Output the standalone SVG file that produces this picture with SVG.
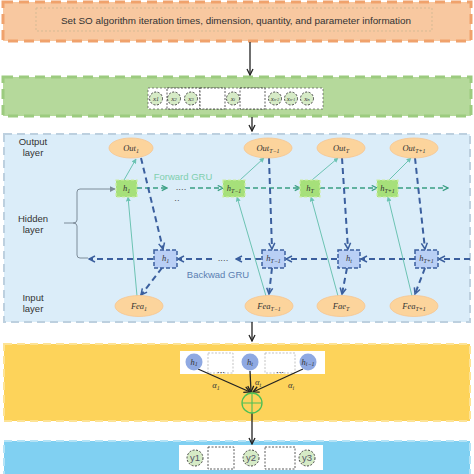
<svg xmlns="http://www.w3.org/2000/svg" width="474" height="474" viewBox="0 0 474 474">
<style>
.lbl{font-family:"Liberation Sans",Arial,sans-serif;font-size:9.5px;fill:#333;text-anchor:middle}
.m{font-family:"Liberation Serif","Times New Roman",serif;font-style:italic;font-size:8.5px;fill:#333;text-anchor:middle}
.s{font-size:6px}
.ell{fill:#fcd49c;stroke:#f6c590;stroke-width:0.8}
.fh{fill:#a6e07a;stroke:#cdeea5;stroke-width:1.2;stroke-dasharray:3 2}
.bh{fill:#b9cff5;stroke:#3b5f9e;stroke-width:1.5;stroke-dasharray:4 2}
.bd{fill:none;stroke:#3b5f9e;stroke-width:2;stroke-dasharray:6 4}
.fd{fill:none;stroke:#3a9f82;stroke-width:1.4;stroke-dasharray:5 3}
.tl{fill:none;stroke:#6cc3b3;stroke-width:1}
.blk{fill:none;stroke:#222;stroke-width:1.3}
.xc{fill:#d6ebc6;stroke:#333;stroke-width:0.9;stroke-dasharray:2 1.5}
.db{fill:#fff;stroke:#333;stroke-width:0.8;stroke-dasharray:2 1.5}
.gb{fill:#fff;stroke:#aaa;stroke-width:0.7;stroke-dasharray:2 1.5}
.hc{fill:#8fa9e2}
.sm{font-family:"Liberation Serif","Times New Roman",serif;font-style:italic;font-size:7px;fill:#333;text-anchor:middle}
</style>
<defs>
<marker id="mB" viewBox="0 0 8 8" refX="7" refY="4" markerWidth="8" markerHeight="8" markerUnits="userSpaceOnUse" orient="auto"><path d="M1,1 L7,4 L1,7" fill="none" stroke="#3b5f9e" stroke-width="1.5"/></marker>
<marker id="mT" viewBox="0 0 8 8" refX="7" refY="4" markerWidth="7" markerHeight="7" markerUnits="userSpaceOnUse" orient="auto"><path d="M1,1 L7,4 L1,7" fill="none" stroke="#3a9f82" stroke-width="1.3"/></marker>
<marker id="mS" viewBox="0 0 8 8" refX="7" refY="4" markerWidth="5" markerHeight="5" markerUnits="userSpaceOnUse" orient="auto"><path d="M0,0 L8,4 L0,8 Z" fill="#6cc3b3"/></marker>
<marker id="mK" viewBox="0 0 8 8" refX="7" refY="4" markerWidth="8" markerHeight="8" markerUnits="userSpaceOnUse" orient="auto"><path d="M1,1 L7,4 L1,7" fill="none" stroke="#222" stroke-width="1.3"/></marker>
<marker id="mG" viewBox="0 0 8 8" refX="7" refY="4" markerWidth="6" markerHeight="6" markerUnits="userSpaceOnUse" orient="auto"><path d="M0,0 L8,4 L0,8 Z" fill="#7d8c99"/></marker>
</defs>

<!-- bands -->
<g id="band1">
<rect x="3" y="2" width="468" height="39" fill="#f8c8a0" stroke="#f0a26c" stroke-width="3" stroke-dasharray="10 6"/>
<rect x="36" y="8" width="396" height="23" fill="none" stroke="#c7b48f" stroke-width="0.7" stroke-dasharray="2 2"/>
<text x="236" y="23.5" class="lbl" font-size="10.5" textLength="350" lengthAdjust="spacingAndGlyphs">Set SO algorithm iteration times, dimension, quantity, and parameter information</text>
</g>

<g id="band2">
<rect x="3" y="77" width="468" height="39" fill="#b5d99b" stroke="#9ccb7f" stroke-width="3" stroke-dasharray="10 6"/>
<rect x="148" y="88" width="175" height="21" fill="#fff" stroke="#555" stroke-width="0.7" stroke-dasharray="2 2"/>
<rect x="167" y="88" width="33" height="21" class="db"/>
<rect x="200" y="88" width="25" height="21" class="db"/>
<rect x="240" y="88" width="25" height="21" class="db"/>
<circle cx="156" cy="98.5" r="6.5" class="xc"/><text x="156" y="101" class="sm">x<tspan class="s" font-size="5">1</tspan></text>
<circle cx="174" cy="98.5" r="6.5" class="xc"/><text x="174" y="101" class="sm">x<tspan font-size="5">2</tspan></text>
<circle cx="191" cy="98.5" r="6.5" class="xc"/><text x="191" y="101" class="sm">x<tspan font-size="5">3</tspan></text>
<circle cx="233" cy="98.5" r="6.5" class="xc"/><text x="233" y="101" class="sm">x<tspan font-size="5">i</tspan></text>
<circle cx="275" cy="98.5" r="6.5" class="xc"/><text x="275" y="101" class="sm" font-size="5.5">x<tspan font-size="4">n-2</tspan></text>
<circle cx="291" cy="98.5" r="6.5" class="xc"/><text x="291" y="101" class="sm" font-size="5.5">x<tspan font-size="4">n-1</tspan></text>
<circle cx="307" cy="98.5" r="6.5" class="xc"/><text x="307" y="101" class="sm">x<tspan font-size="5">n</tspan></text>
</g>

<g id="band3">
<rect x="4" y="134" width="466" height="188" fill="#dbedf9" stroke="#bdd0df" stroke-width="2" stroke-dasharray="8 5"/>
<text x="33" y="145" class="lbl">Output</text><text x="33" y="156" class="lbl">layer</text>
<text x="33" y="222" class="lbl">Hidden</text><text x="33" y="233" class="lbl">layer</text>
<text x="33" y="301" class="lbl">Input</text><text x="33" y="312" class="lbl">layer</text>
<text x="183" y="180" class="lbl" font-size="9" fill="#7fcfae" style="fill:#7fcfae">Forward GRU</text>
<text x="218" y="278" class="lbl" font-size="9" style="fill:#5b7fb2">Backwad GRU</text>
<text x="181" y="190" class="lbl" font-size="8" style="fill:#555">....</text>
<text x="177" y="201" class="lbl" font-size="8" style="fill:#555">..</text>
<text x="223" y="261" class="lbl" font-size="8" style="fill:#555">....</text>
</g>

<g id="band4">
<rect x="4" y="344" width="466" height="77" fill="#fdd35a" stroke="#fde395" stroke-width="2" stroke-dasharray="8 5"/>
<rect x="180" y="351" width="145" height="23" fill="#fff"/>
<rect x="208" y="353" width="25" height="20" class="gb"/>
<rect x="265" y="353" width="30" height="20" class="gb"/>
<text x="221" y="373" class="lbl" font-size="8">...</text>
<text x="280" y="373" class="lbl" font-size="8">...</text>
</g>

<g id="band5">
<rect x="4" y="441" width="466" height="34" fill="#80d0f2" stroke="#b5e3f6" stroke-width="2" stroke-dasharray="8 5"/>
<rect x="179" y="445" width="144" height="25" fill="#fff"/>
<rect x="208" y="447" width="26" height="22" class="db"/>
<rect x="265" y="447" width="30" height="22" class="db"/>
</g>

<!-- connectors -->
<g id="connectors">
<line x1="250" y1="42" x2="250" y2="75" class="blk" marker-end="url(#mK)"/>
<line x1="252" y1="117" x2="252" y2="131" class="blk" marker-end="url(#mK)"/>
<line x1="252" y1="322" x2="252" y2="341" class="blk" marker-end="url(#mK)"/>
<line x1="252" y1="413" x2="252" y2="444" class="blk" marker-end="url(#mK)"/>

<!-- bracket -->
<path d="M88,258 L80,258 Q77,258 77,255 L77,226 Q77,223 73,223 L64,223 M73,223 Q77,223 77,220 L77,192 Q77,189 80,189 L115,189" fill="none" stroke="#7d8c99" stroke-width="1" marker-end="url(#mG)"/>

<!-- forward chain -->
<line x1="137" y1="188" x2="167" y2="188" class="fd" marker-end="url(#mT)"/>
<line x1="190" y1="188" x2="223" y2="188" class="fd" marker-end="url(#mT)"/>
<line x1="245" y1="188" x2="300" y2="188" class="fd" marker-end="url(#mT)"/>
<line x1="320" y1="188" x2="377" y2="188" class="fd" marker-end="url(#mT)"/>
<line x1="398" y1="188" x2="448" y2="188" class="fd" marker-end="url(#mT)"/>

<!-- backward chain -->
<line x1="470" y1="259" x2="439" y2="259" class="bd" marker-end="url(#mB)"/>
<line x1="415" y1="259" x2="361" y2="259" class="bd" marker-end="url(#mB)"/>
<line x1="337" y1="259" x2="286" y2="259" class="bd" marker-end="url(#mB)"/>
<line x1="261" y1="259" x2="236" y2="259" class="bd" marker-end="url(#mB)"/>
<line x1="212" y1="259" x2="178" y2="259" class="bd" marker-end="url(#mB)"/>
<line x1="153" y1="259" x2="89" y2="259" class="bd" marker-end="url(#mB)"/>

<!-- Out to backward h -->
<line x1="141" y1="158" x2="163" y2="249" class="bd" marker-end="url(#mB)"/>
<line x1="269" y1="158" x2="272" y2="249" class="bd" marker-end="url(#mB)"/>
<line x1="342" y1="158" x2="348" y2="249" class="bd" marker-end="url(#mB)"/>
<line x1="415" y1="158" x2="425" y2="249" class="bd" marker-end="url(#mB)"/>

<!-- backward h to Fea -->
<line x1="162" y1="268" x2="141" y2="295" class="bd" marker-end="url(#mB)"/>
<line x1="272" y1="268" x2="269" y2="294" class="bd" marker-end="url(#mB)"/>
<line x1="347" y1="268" x2="342" y2="294" class="bd" marker-end="url(#mB)"/>
<line x1="425" y1="268" x2="415" y2="294" class="bd" marker-end="url(#mB)"/>

<!-- Fea to forward h -->
<line x1="137" y1="296" x2="128" y2="197" class="tl" marker-end="url(#mS)"/>
<line x1="266" y1="296" x2="237" y2="197" class="tl" marker-end="url(#mS)"/>
<line x1="338" y1="296" x2="311" y2="197" class="tl" marker-end="url(#mS)"/>
<line x1="412" y1="296" x2="388" y2="197" class="tl" marker-end="url(#mS)"/>

<!-- forward h to Out -->
<line x1="124" y1="180" x2="136" y2="159" class="tl" marker-end="url(#mS)"/>
<line x1="240" y1="180" x2="264" y2="158" class="tl" marker-end="url(#mS)"/>
<line x1="312" y1="180" x2="338" y2="158" class="tl" marker-end="url(#mS)"/>
<line x1="389" y1="180" x2="411" y2="158" class="tl" marker-end="url(#mS)"/>

<!-- attention -->
<line x1="198" y1="369" x2="250" y2="392" class="blk" marker-end="url(#mK)"/>
<line x1="250" y1="371" x2="251" y2="392" class="blk" marker-end="url(#mK)"/>
<line x1="303" y1="369" x2="253" y2="392" class="blk" marker-end="url(#mK)"/>
</g>

<!-- output layer nodes -->
<g id="out1"><ellipse cx="131" cy="148" rx="22" ry="10" class="ell"/><text x="131" y="151" class="m">Out<tspan class="s" dy="1.5">1</tspan></text></g>
<g id="outT-1"><ellipse cx="268" cy="148" rx="24" ry="10" class="ell"/><text x="268" y="151" class="m">Out<tspan class="s" dy="1.5">T−1</tspan></text></g>
<g id="outT"><ellipse cx="341" cy="148" rx="24" ry="10" class="ell"/><text x="341" y="151" class="m">Out<tspan class="s" dy="1.5">T</tspan></text></g>
<g id="outT+1"><ellipse cx="414" cy="148" rx="24" ry="10" class="ell"/><text x="414" y="151" class="m">Out<tspan class="s" dy="1.5">T+1</tspan></text></g>

<!-- forward hidden -->
<g id="fh1"><rect x="116" y="180" width="21" height="17" class="fh"/><text x="126.5" y="191" class="m">h<tspan class="s" dy="1.5">1</tspan></text></g>
<g id="fhT-1"><rect x="223" y="180" width="22" height="17" class="fh"/><text x="234" y="191" class="m">h<tspan class="s" dy="1.5">T−1</tspan></text></g>
<g id="fhT"><rect x="300" y="180" width="20" height="17" class="fh"/><text x="310" y="191" class="m">h<tspan class="s" dy="1.5">T</tspan></text></g>
<g id="fhT+1"><rect x="377" y="180" width="21" height="17" class="fh"/><text x="387.5" y="191" class="m">h<tspan class="s" dy="1.5">T+1</tspan></text></g>

<!-- backward hidden -->
<g id="bh1"><rect x="154" y="250" width="23" height="18" class="bh"/><text x="165.5" y="261" class="m">h<tspan class="s" dy="1.5">1</tspan></text></g>
<g id="bhT-1"><rect x="262" y="250" width="23" height="18" class="bh"/><text x="273.5" y="261" class="m">h<tspan class="s" dy="1.5">T−1</tspan></text></g>
<g id="bhT"><rect x="338" y="250" width="22" height="18" class="bh"/><text x="349" y="261" class="m">h<tspan class="s" dy="1.5">t</tspan></text></g>
<g id="bhT+1"><rect x="415" y="250" width="23" height="18" class="bh"/><text x="426.5" y="261" class="m">h<tspan class="s" dy="1.5">T+1</tspan></text></g>

<!-- input layer -->
<g id="fea1"><ellipse cx="139" cy="306" rx="24" ry="10.5" class="ell"/><text x="139" y="309" class="m">Fea<tspan class="s" dy="1.5">1</tspan></text></g>
<g id="feaT-1"><ellipse cx="269" cy="306" rx="24" ry="10.5" class="ell"/><text x="269" y="309" class="m">Fea<tspan class="s" dy="1.5">T−1</tspan></text></g>
<g id="faeT"><ellipse cx="341" cy="306" rx="24" ry="10.5" class="ell"/><text x="341" y="309" class="m">Fae<tspan class="s" dy="1.5">T</tspan></text></g>
<g id="feaT+1"><ellipse cx="414" cy="306" rx="24" ry="10.5" class="ell"/><text x="414" y="309" class="m">Fea<tspan class="s" dy="1.5">T+1</tspan></text></g>

<!-- attention nodes -->
<g id="ah1"><circle cx="194" cy="362" r="8.5" class="hc"/><text x="194" y="365" class="m" font-size="7.5">h<tspan class="s" dy="1">1</tspan></text></g>
<g id="aht"><circle cx="250" cy="362" r="8.5" class="hc"/><text x="250" y="365" class="m" font-size="7.5">h<tspan class="s" dy="1">t</tspan></text></g>
<g id="ahi"><circle cx="308" cy="362" r="8.5" class="hc"/><text x="308" y="365" class="m" font-size="7.5">h<tspan class="s" dy="1">i−1</tspan></text></g>
<g id="alphas">
<text x="216" y="388" class="m" font-size="8">α<tspan class="s" dy="1.5">1</tspan></text>
<text x="258" y="385" class="m" font-size="8">α<tspan class="s" dy="1.5">t</tspan></text>
<text x="291" y="388" class="m" font-size="8">α<tspan class="s" dy="1.5">i</tspan></text>
</g>
<g id="sum"><circle cx="252" cy="403" r="10" fill="none" stroke="#4cbf55" stroke-width="1.3"/><path d="M242,403 H262 M252,393 V413" stroke="#4cbf55" stroke-width="1.1"/></g>

<!-- outputs -->
<g id="y1"><circle cx="195" cy="458" r="8" class="xc"/><text x="195" y="461" class="lbl" font-size="8" style="fill:#556">y1</text></g>
<g id="y2"><circle cx="251" cy="458" r="8" class="xc"/><text x="251" y="461" class="lbl" font-size="8" style="fill:#556">y2</text></g>
<g id="y3"><circle cx="307" cy="458" r="8" class="xc"/><text x="307" y="461" class="lbl" font-size="8" style="fill:#556">y3</text></g>
</svg>
